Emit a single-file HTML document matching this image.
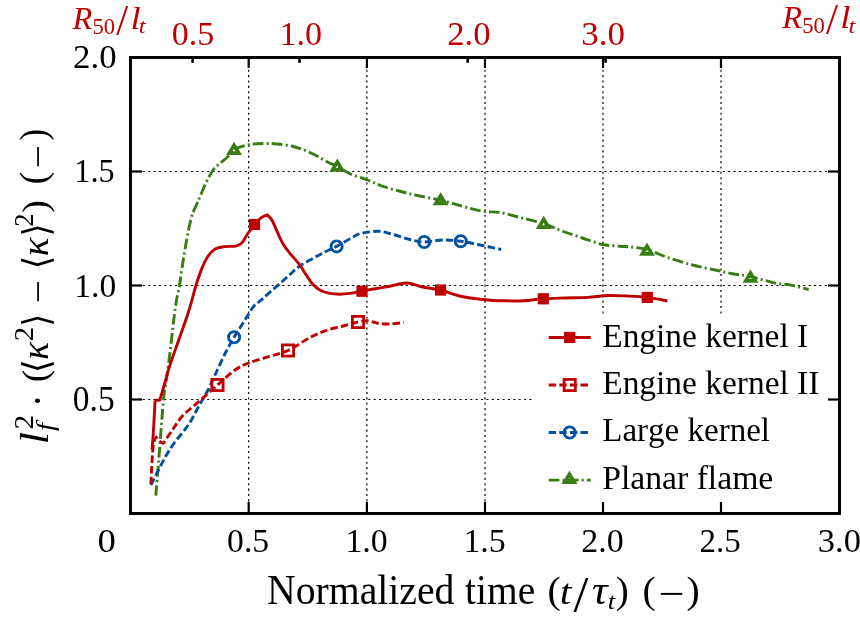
<!DOCTYPE html>
<html><head><meta charset="utf-8"><style>html,body{margin:0;padding:0;background:#fff;overflow:hidden}svg{display:block}</style></head>
<body>
<svg width="860" height="621" viewBox="0 0 860 621">
<rect width="860" height="621" fill="#fff"/>
<g stroke="#000" stroke-width="1.2" stroke-dasharray="2.1 3.27" fill="none"><line x1="248.67" y1="59" x2="248.67" y2="512"/><line x1="366.90" y1="59" x2="366.90" y2="512"/><line x1="485.00" y1="59" x2="485.00" y2="512"/><line x1="603.00" y1="59" x2="603.00" y2="512"/><line x1="721.00" y1="59" x2="721.00" y2="512"/><line x1="132" y1="399.50" x2="838" y2="399.50"/><line x1="132" y1="285.50" x2="838" y2="285.50"/><line x1="132" y1="171.50" x2="838" y2="171.50"/></g>
<g fill="none" stroke-width="2.9" stroke-linejoin="round">
<path d="M155.80,495.70 C156.32,489.42 158.03,468.83 158.90,458.00 C159.77,447.17 160.23,440.48 161.00,430.70 C161.77,420.92 162.62,407.75 163.50,399.30 C164.38,390.85 165.17,387.80 166.25,380.00 C167.33,372.20 168.75,362.50 170.00,352.50 C171.25,342.50 172.65,328.78 173.75,320.00 C174.85,311.22 175.64,305.58 176.60,299.80 C177.56,294.02 178.30,292.55 179.50,285.30 C180.70,278.05 182.28,265.57 183.80,256.30 C185.32,247.03 187.18,236.75 188.60,229.70 C190.02,222.65 192.30,214.00 192.30,214.00 C192.30,214.00 196.08,205.73 198.30,200.70 C200.52,195.67 203.18,188.83 205.60,183.80 C208.02,178.77 210.40,173.92 212.80,170.50 C215.20,167.08 217.58,165.52 220.00,163.30 C222.42,161.08 224.97,159.50 227.30,157.20 C229.63,154.90 230.50,151.57 234.00,149.50 C237.50,147.43 244.38,145.75 248.30,144.80 C252.22,143.85 254.28,144.02 257.50,143.80 C260.72,143.58 264.89,143.51 267.60,143.50 C270.31,143.49 269.60,143.29 273.75,143.75 C277.90,144.21 286.46,144.79 292.50,146.25 C298.54,147.71 304.17,149.88 310.00,152.50 C315.83,155.12 323.00,159.67 327.50,162.00 C332.00,164.33 333.25,164.54 337.00,166.50 C340.75,168.46 344.92,171.50 350.00,173.75 C355.08,176.00 362.08,177.92 367.50,180.00 C372.92,182.08 377.08,184.38 382.50,186.25 C387.92,188.12 394.17,189.71 400.00,191.25 C405.83,192.79 410.83,194.04 417.50,195.50 C424.17,196.96 432.50,198.21 440.00,200.00 C447.50,201.79 455.42,204.38 462.50,206.25 C469.58,208.12 476.25,210.21 482.50,211.25 C488.75,212.29 493.75,211.46 500.00,212.50 C506.25,213.54 512.71,215.62 520.00,217.50 C527.29,219.38 536.67,221.46 543.75,223.75 C550.83,226.04 556.04,228.88 562.50,231.25 C568.96,233.62 575.83,235.79 582.50,238.00 C589.17,240.21 596.25,243.12 602.50,244.50 C608.75,245.88 615.42,245.83 620.00,246.25 C624.58,246.67 625.50,246.46 630.00,247.00 C634.50,247.54 640.75,247.75 647.00,249.50 C653.25,251.25 659.92,254.92 667.50,257.50 C675.08,260.08 684.58,262.92 692.50,265.00 C700.42,267.08 708.33,268.54 715.00,270.00 C721.67,271.46 726.67,272.67 732.50,273.75 C738.33,274.83 742.88,274.94 750.00,276.50 C757.12,278.06 768.57,281.70 775.20,283.10 C781.83,284.50 784.22,283.83 789.80,284.90 C795.38,285.97 805.55,288.73 808.70,289.50" stroke="#397c14" stroke-dasharray="10.7 3.2 2.0 3.2"/>
<path d="M150.90,485.20 C152.30,482.40 156.68,473.47 159.30,468.40 C161.92,463.33 164.15,458.98 166.60,454.80 C169.05,450.62 170.33,448.35 174.00,443.30 C177.67,438.25 184.42,430.78 188.60,424.50 C192.78,418.22 195.95,411.18 199.10,405.60 C202.25,400.02 204.85,396.10 207.50,391.00 C210.15,385.90 212.08,381.21 215.00,375.00 C217.92,368.79 221.82,360.03 225.00,353.75 C228.18,347.47 230.77,342.93 234.10,337.30 C237.43,331.68 241.72,325.18 245.00,320.00 C248.28,314.82 251.02,309.60 253.75,306.25 C256.48,302.90 258.64,302.31 261.40,299.90 C264.16,297.49 266.95,294.75 270.30,291.80 C273.65,288.85 278.02,285.28 281.50,282.20 C284.98,279.12 287.97,276.13 291.20,273.30 C294.43,270.47 297.13,267.75 300.90,265.20 C304.67,262.65 309.78,260.22 313.80,258.00 C317.82,255.78 321.20,253.83 325.00,251.90 C328.80,249.97 332.43,248.60 336.60,246.40 C340.77,244.20 346.10,240.81 350.00,238.70 C353.90,236.59 355.21,234.99 360.00,233.75 C364.79,232.51 372.92,231.04 378.75,231.25 C384.58,231.46 389.79,233.62 395.00,235.00 C400.21,236.38 405.12,238.33 410.00,239.50 C414.88,240.67 418.83,241.92 424.25,242.00 C429.67,242.08 436.42,240.12 442.50,240.00 C448.58,239.88 454.50,240.42 460.75,241.25 C467.00,242.08 473.25,243.62 480.00,245.00 C486.75,246.38 497.71,248.75 501.25,249.50" stroke="#0050a0" stroke-dasharray="7.4 3.2"/>
<path d="M150.90,484.10 C151.08,480.42 151.57,468.68 152.00,462.00 C152.43,455.32 152.80,448.17 153.50,444.00 C154.20,439.83 156.20,437.00 156.20,437.00 C156.20,437.00 158.08,439.95 159.30,441.00 C160.52,442.05 163.50,443.30 163.50,443.30 C163.50,443.30 168.75,435.23 171.90,430.70 C175.05,426.17 177.87,420.98 182.40,416.10 C186.93,411.22 193.25,406.58 199.10,401.40 C204.95,396.22 211.52,390.23 217.50,385.00 C223.48,379.77 229.58,373.75 235.00,370.00 C240.42,366.25 244.17,364.79 250.00,362.50 C255.83,360.21 263.67,358.25 270.00,356.25 C276.33,354.25 281.33,353.62 288.00,350.50 C294.67,347.38 303.42,340.92 310.00,337.50 C316.58,334.08 321.67,332.00 327.50,330.00 C333.33,328.00 339.92,326.83 345.00,325.50 C350.08,324.17 354.25,322.79 358.00,322.00 C361.75,321.21 364.25,320.54 367.50,320.75 C370.75,320.96 373.75,322.71 377.50,323.25 C381.25,323.79 385.62,324.12 390.00,324.00 C394.38,323.88 401.46,322.75 403.75,322.50" stroke="#bf0000" stroke-dasharray="7.4 3.2"/>
<path d="M152.00,449.50 C152.22,446.75 152.78,441.20 153.30,433.00 C153.82,424.80 154.80,405.75 155.10,400.30" stroke="#bf0000"/>
<path d="M155.10,400.30 C155.10,400.30 159.80,400.00 159.80,400.00 C159.80,400.00 163.30,388.33 165.00,382.50 C166.70,376.67 167.71,372.08 170.00,365.00 C172.29,357.92 175.83,348.33 178.75,340.00 C181.67,331.67 185.29,321.67 187.50,315.00 C189.71,308.33 190.58,304.95 192.00,300.00 C193.42,295.05 194.35,290.57 196.00,285.30 C197.65,280.03 199.90,273.23 201.90,268.40 C203.90,263.57 205.78,259.53 208.00,256.30 C210.22,253.07 212.38,250.62 215.20,249.00 C218.02,247.38 221.48,247.08 224.90,246.60 C228.32,246.12 232.88,246.70 235.70,246.10 C238.52,245.50 239.80,245.05 241.80,243.00 C243.80,240.95 245.58,236.88 247.70,233.80 C249.82,230.72 252.23,227.20 254.50,224.50 C256.77,221.80 259.17,219.22 261.30,217.60 C263.43,215.98 267.30,214.80 267.30,214.80 C267.30,214.80 270.33,217.47 271.90,220.10 C273.47,222.73 274.82,226.57 276.70,230.60 C278.58,234.63 280.78,240.27 283.20,244.30 C285.62,248.33 288.52,251.45 291.20,254.80 C293.88,258.15 296.88,261.18 299.30,264.40 C301.72,267.62 303.55,270.87 305.70,274.10 C307.85,277.33 309.78,281.12 312.20,283.80 C314.62,286.48 317.25,288.60 320.20,290.20 C323.15,291.80 326.68,292.73 329.90,293.40 C333.12,294.07 336.15,294.20 339.50,294.20 C342.85,294.20 346.25,293.89 350.00,293.40 C353.75,292.91 357.83,292.02 362.00,291.25 C366.17,290.48 370.33,289.58 375.00,288.75 C379.67,287.92 384.67,287.21 390.00,286.25 C395.33,285.29 401.58,282.88 407.00,283.00 C412.42,283.12 416.92,285.83 422.50,287.00 C428.08,288.17 434.33,288.50 440.50,290.00 C446.67,291.50 452.13,294.38 459.50,296.00 C466.87,297.62 477.25,298.90 484.70,299.70 C492.15,300.50 497.70,300.62 504.20,300.80 C510.70,300.98 517.18,301.13 523.70,300.80 C530.22,300.47 536.32,299.27 543.30,298.80 C550.28,298.33 558.17,298.23 565.60,298.00 C573.03,297.77 580.92,297.82 587.90,297.40 C594.88,296.98 600.98,295.73 607.50,295.50 C614.02,295.27 620.37,295.68 627.00,296.00 C633.63,296.32 640.55,296.57 647.30,297.40 C654.05,298.23 664.13,300.40 667.50,301.00" stroke="#bf0000"/>
</g>
<path d="M234.00,145.25 L238.79,153.10 L229.21,153.10 Z" fill="none" stroke="#397c14" stroke-width="3.6" stroke-linejoin="miter"/>
<path d="M337.30,162.05 L342.09,169.90 L332.51,169.90 Z" fill="none" stroke="#397c14" stroke-width="3.6" stroke-linejoin="miter"/>
<path d="M440.60,195.65 L445.39,203.50 L435.81,203.50 Z" fill="none" stroke="#397c14" stroke-width="3.6" stroke-linejoin="miter"/>
<path d="M543.70,219.25 L548.49,227.10 L538.91,227.10 Z" fill="none" stroke="#397c14" stroke-width="3.6" stroke-linejoin="miter"/>
<path d="M647.00,246.00 L651.79,253.85 L642.21,253.85 Z" fill="none" stroke="#397c14" stroke-width="3.6" stroke-linejoin="miter"/>
<path d="M750.50,273.05 L755.29,280.90 L745.71,280.90 Z" fill="none" stroke="#397c14" stroke-width="3.6" stroke-linejoin="miter"/>
<circle cx="234.10" cy="337.30" r="5.6" fill="none" stroke="#0050a0" stroke-width="2.8"/>
<circle cx="336.60" cy="246.40" r="5.6" fill="none" stroke="#0050a0" stroke-width="2.8"/>
<circle cx="424.25" cy="242.00" r="5.6" fill="none" stroke="#0050a0" stroke-width="2.8"/>
<circle cx="460.75" cy="241.25" r="5.6" fill="none" stroke="#0050a0" stroke-width="2.8"/>
<rect x="211.90" y="379.40" width="11.2" height="11.2" fill="none" stroke="#bf0000" stroke-width="2.8"/>
<rect x="282.40" y="344.90" width="11.2" height="11.2" fill="none" stroke="#bf0000" stroke-width="2.8"/>
<rect x="352.40" y="316.40" width="11.2" height="11.2" fill="none" stroke="#bf0000" stroke-width="2.8"/>
<rect x="248.90" y="218.90" width="11.2" height="11.2" fill="#bf0000"/>
<rect x="356.40" y="285.65" width="11.2" height="11.2" fill="#bf0000"/>
<rect x="434.90" y="284.40" width="11.2" height="11.2" fill="#bf0000"/>
<rect x="537.70" y="293.20" width="11.2" height="11.2" fill="#bf0000"/>
<rect x="641.70" y="291.80" width="11.2" height="11.2" fill="#bf0000"/>
<rect x="533" y="314" width="294" height="198" fill="#fff"/>
<g fill="none" stroke-width="2.9">
<line x1="548.7" y1="337.45" x2="590.7" y2="337.45" stroke="#bf0000"/>
<line x1="548.7" y1="385.0" x2="590.7" y2="385.0" stroke="#bf0000" stroke-dasharray="7.4 3.2"/>
<line x1="548.7" y1="432.55" x2="590.7" y2="432.55" stroke="#0050a0" stroke-dasharray="7.4 3.2"/>
<line x1="548.7" y1="480.1" x2="590.7" y2="480.1" stroke="#397c14" stroke-dasharray="10.7 3.2 2.0 3.2"/>
</g>
<rect x="564.10" y="331.85" width="11.2" height="11.2" fill="#bf0000"/>
<rect x="564.10" y="379.40" width="11.2" height="11.2" fill="none" stroke="#bf0000" stroke-width="2.8"/>
<circle cx="569.70" cy="432.55" r="5.6" fill="none" stroke="#0050a0" stroke-width="2.8"/>
<path d="M569.40,474.30 L574.19,482.15 L564.61,482.15 Z" fill="none" stroke="#397c14" stroke-width="3.6" stroke-linejoin="miter"/>
<g stroke="#000" fill="none"><rect x="130.5" y="57.5" width="709" height="456" stroke-width="3"/><line x1="248.67" y1="513.5" x2="248.67" y2="502" stroke-width="2.2"/><line x1="248.67" y1="57.5" x2="248.67" y2="68" stroke-width="2.2"/><line x1="366.90" y1="513.5" x2="366.90" y2="502" stroke-width="2.2"/><line x1="366.90" y1="57.5" x2="366.90" y2="68" stroke-width="2.2"/><line x1="485.00" y1="513.5" x2="485.00" y2="502" stroke-width="2.2"/><line x1="485.00" y1="57.5" x2="485.00" y2="68" stroke-width="2.2"/><line x1="603.00" y1="513.5" x2="603.00" y2="502" stroke-width="2.2"/><line x1="603.00" y1="57.5" x2="603.00" y2="68" stroke-width="2.2"/><line x1="721.00" y1="513.5" x2="721.00" y2="502" stroke-width="2.2"/><line x1="721.00" y1="57.5" x2="721.00" y2="68" stroke-width="2.2"/><line x1="130.5" y1="399.50" x2="142" y2="399.50" stroke-width="2.2"/><line x1="839.5" y1="399.50" x2="828" y2="399.50" stroke-width="2.2"/><line x1="130.5" y1="285.50" x2="142" y2="285.50" stroke-width="2.2"/><line x1="839.5" y1="285.50" x2="828" y2="285.50" stroke-width="2.2"/><line x1="130.5" y1="171.50" x2="142" y2="171.50" stroke-width="2.2"/><line x1="839.5" y1="171.50" x2="828" y2="171.50" stroke-width="2.2"/><line x1="192.60" y1="57.5" x2="192.60" y2="62.8" stroke-width="2.6"/><line x1="299.50" y1="57.5" x2="299.50" y2="62.8" stroke-width="2.6"/><line x1="467.70" y1="57.5" x2="467.70" y2="62.8" stroke-width="2.6"/><line x1="605.60" y1="57.5" x2="605.60" y2="62.8" stroke-width="2.6"/></g>
<g fill="#000" style="font-kerning:none">
<text transform="matrix(0.9994 0 0 1 602.24 347.00)" font-family="Liberation Serif" font-size="33.45">Engine kernel I</text>
<text transform="matrix(0.9997 0 0 1 602.24 394.00)" font-family="Liberation Serif" font-size="33.45">Engine kernel II</text>
<text transform="matrix(0.9877 0 0 1 602.25 441.00)" font-family="Liberation Serif" font-size="33.45">Large kernel</text>
<text transform="matrix(1.0070 0 0 1 602.23 488.50)" font-family="Liberation Serif" font-size="33.45">Planar flame</text>
<text transform="matrix(1.0381 0 0 1 73.07 68.42)" font-family="Liberation Serif" font-size="33.57">2.0</text>
<text transform="matrix(0.9343 0 0 1 74.37 182.41)" font-family="Liberation Serif" font-size="34.41">1.5</text>
<text transform="matrix(0.9819 0 0 1 74.25 296.72)" font-family="Liberation Serif" font-size="34.16">1.0</text>
<text transform="matrix(0.9619 0 0 1 72.83 411.11)" font-family="Liberation Serif" font-size="34.75">0.5</text>
<text transform="matrix(1.0799 0 0 1 97.40 551.87)" font-family="Liberation Serif" font-size="34.08">0</text>
<text transform="matrix(0.9945 0 0 1 227.12 551.72)" font-family="Liberation Serif" font-size="33.86">0.5</text>
<text transform="matrix(1.0010 0 0 1 345.42 551.72)" font-family="Liberation Serif" font-size="33.86">1.0</text>
<text transform="matrix(0.9946 0 0 1 463.42 551.72)" font-family="Liberation Serif" font-size="34.11">1.5</text>
<text transform="matrix(1.0038 0 0 1 581.31 551.72)" font-family="Liberation Serif" font-size="33.86">2.0</text>
<text transform="matrix(0.9700 0 0 1 699.45 551.72)" font-family="Liberation Serif" font-size="34.01">2.5</text>
<text transform="matrix(1.0198 0 0 1 817.75 551.72)" font-family="Liberation Serif" font-size="33.86">3.0</text>
<text transform="matrix(1.0134 0 0 1 171.80 44.92)" font-family="Liberation Serif" font-size="33.57" fill="#bf0000">0.5</text>
<text transform="matrix(1.0177 0 0 1 279.40 44.92)" font-family="Liberation Serif" font-size="33.57" fill="#bf0000">1.0</text>
<text transform="matrix(1.0330 0 0 1 447.28 44.92)" font-family="Liberation Serif" font-size="33.57" fill="#bf0000">2.0</text>
<text transform="matrix(1.0416 0 0 1 581.33 44.92)" font-family="Liberation Serif" font-size="33.57" fill="#bf0000">3.0</text>
<text transform="matrix(0.9993 0 0 1 72.47 28.50)" font-family="Liberation Serif" font-size="32.38" font-style="italic" fill="#bf0000">R</text>
<text transform="matrix(1.0020 0 0 1 92.49 33.78)" font-family="Liberation Serif" font-size="22.53" fill="#bf0000">50</text>
<text transform="matrix(0.9929 0 0 1 116.30 35.18)" font-family="Liberation Serif" font-size="43.50" fill="#bf0000">/</text>
<text transform="matrix(1.1500 0 0 1 130.51 28.50)" font-family="Liberation Serif" font-size="31.71" font-style="italic" fill="#bf0000">l</text>
<text transform="matrix(1.1500 0 0 1 138.76 33.49)" font-family="Liberation Serif" font-size="21.30" font-style="italic" fill="#bf0000">t</text>
<text transform="matrix(0.9993 0 0 1 782.17 27.70)" font-family="Liberation Serif" font-size="32.38" font-style="italic" fill="#bf0000">R</text>
<text transform="matrix(1.0020 0 0 1 802.19 32.98)" font-family="Liberation Serif" font-size="22.53" fill="#bf0000">50</text>
<text transform="matrix(0.9929 0 0 1 826.00 34.38)" font-family="Liberation Serif" font-size="43.50" fill="#bf0000">/</text>
<text transform="matrix(1.1500 0 0 1 840.21 27.70)" font-family="Liberation Serif" font-size="31.71" font-style="italic" fill="#bf0000">l</text>
<text transform="matrix(1.1500 0 0 1 848.46 32.69)" font-family="Liberation Serif" font-size="21.30" font-style="italic" fill="#bf0000">t</text>
<text transform="matrix(0.9630 0 0 1 267.06 603.50)" font-family="Liberation Serif" font-size="41.23">Normalized</text>
<text transform="matrix(0.9558 0 0 1 465.12 603.50)" font-family="Liberation Serif" font-size="41.23">time</text>
<text transform="matrix(1.0749 0 0 1 547.55 602.73)" font-family="Liberation Serif" font-size="36.95">(</text>
<text transform="matrix(1.1500 0 0 1 559.86 604.05)" font-family="Liberation Serif" font-size="36.32" font-style="italic">t</text>
<text transform="matrix(1.0429 0 0 1 573.50 611.00)" font-family="Liberation Serif" font-size="51.42">/</text>
<text transform="matrix(1.0768 0 0 1 592.05 603.71)" font-family="Liberation Serif" font-size="40.32" font-style="italic">τ</text>
<text transform="matrix(1.1279 0 0 1 607.71 609.26)" font-family="Liberation Serif" font-size="24.09" font-style="italic">t</text>
<text transform="matrix(1.0581 0 0 1 615.63 602.69)" font-family="Liberation Serif" font-size="37.17">)</text>
<text transform="matrix(1.0749 0 0 1 642.45 602.73)" font-family="Liberation Serif" font-size="36.95">(</text>
<text transform="matrix(1.1500 0 0 1 658.56 606.73)" font-family="Liberation Serif" font-size="40.16">−</text>
<text transform="matrix(1.0749 0 0 1 686.62 602.73)" font-family="Liberation Serif" font-size="36.95">)</text>
<g transform="translate(48.0,442.4) rotate(-90)"><text transform="matrix(1.1500 0 0 1 -2.14 -0.20)" font-family="Liberation Serif" font-size="39.06" font-style="italic">l</text><text transform="matrix(1.1500 0 0 1 11.34 5.64)" font-family="Liberation Serif" font-size="25.19" font-style="italic">f</text><text transform="matrix(1.0827 0 0 1 12.81 -14.90)" font-family="Liberation Serif" font-size="27.19">2</text><text transform="matrix(0.8824 0 0 1 35.31 3.64)" font-family="Liberation Serif" font-size="43.16">·</text><text transform="matrix(1.0441 0 0 1 60.14 -1.40)" font-family="Liberation Serif" font-size="36.17">(</text><text transform="matrix(0.9842 0 0 1 69.16 1.44)" font-family="DejaVu Serif" font-size="36.83">⟨</text><text transform="matrix(0.9651 0 0 1 82.54 0.10)" font-family="Liberation Serif" font-size="38.56" font-style="italic">κ</text><text transform="matrix(1.0824 0 0 1 101.23 -15.00)" font-family="Liberation Serif" font-size="26.73">2</text><text transform="matrix(0.8735 0 0 1 115.92 1.44)" font-family="DejaVu Serif" font-size="36.83">⟩</text><text transform="matrix(1.1500 0 0 1 139.01 1.50)" font-family="Liberation Serif" font-size="36.14">−</text><text transform="matrix(0.9719 0 0 1 172.80 1.44)" font-family="DejaVu Serif" font-size="36.83">⟨</text><text transform="matrix(1.0108 0 0 1 186.07 0.10)" font-family="Liberation Serif" font-size="38.56" font-style="italic">κ</text><text transform="matrix(0.8735 0 0 1 206.12 1.44)" font-family="DejaVu Serif" font-size="36.83">⟩</text><text transform="matrix(0.9985 0 0 1 215.53 -15.00)" font-family="Liberation Serif" font-size="26.73">2</text><text transform="matrix(1.0441 0 0 1 229.68 -1.40)" font-family="Liberation Serif" font-size="36.17">)</text><text transform="matrix(1.0266 0 0 1 257.82 -1.61)" font-family="Liberation Serif" font-size="37.17">(</text><text transform="matrix(1.1500 0 0 1 273.91 1.50)" font-family="Liberation Serif" font-size="36.14">−</text><text transform="matrix(0.9324 0 0 1 301.78 -1.61)" font-family="Liberation Serif" font-size="37.17">)</text></g>
</g>
</svg>
</body></html>
